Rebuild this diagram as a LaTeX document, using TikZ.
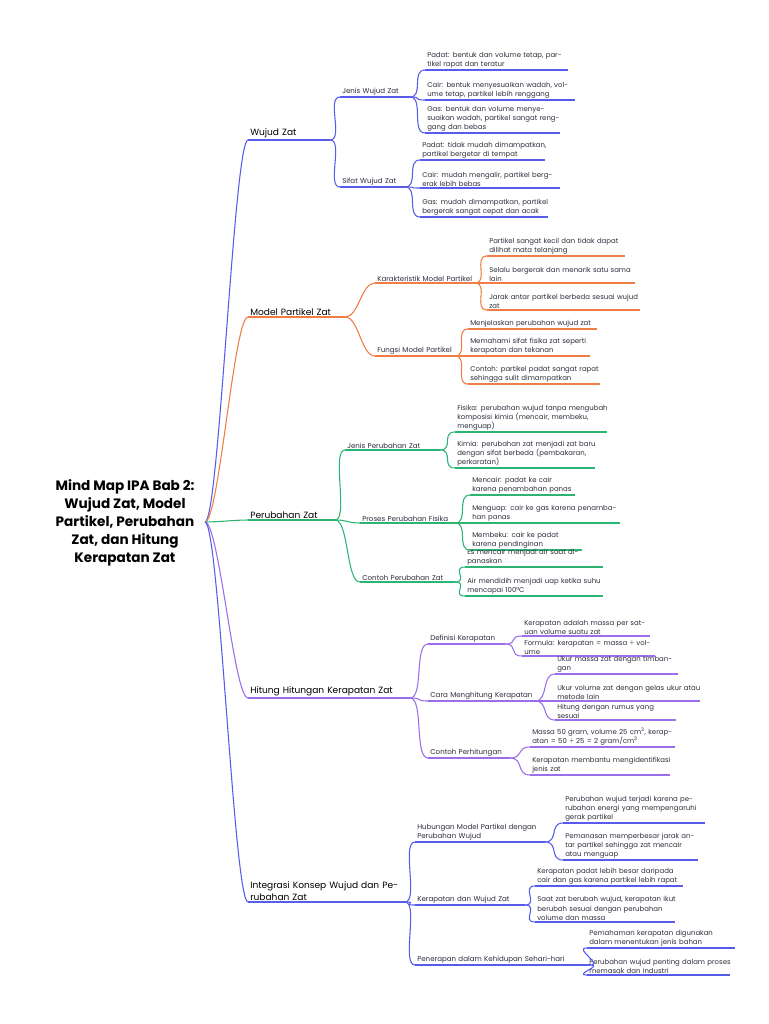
\documentclass[tikz,border=0pt]{standalone}
\usepackage{fontspec}
\setmainfont{Poppins}
\usetikzlibrary{positioning,calc}
\definecolor{mapblue}{RGB}{88,92,235}
\definecolor{maporange}{RGB}{240,125,70}
\definecolor{mapgreen}{RGB}{45,180,115}
\definecolor{mappurple}{RGB}{155,110,235}
\definecolor{maptext}{RGB}{45,45,60}

\tikzset{
    leaf/.style={font=\fontsize{5.2}{6.8}\selectfont, text=maptext},
    sub/.style={font=\fontsize{5.3}{6.8}\selectfont, text=maptext},
    main/.style={font=\fontsize{6.8}{8.6}\selectfont, text=black},
}

% underline with text: name, colour, x1, x2, y, style, text
\newcommand\mmline[7]{%
    \coordinate (#1-s) at (#3,#5);
    \coordinate (#1-e) at (#4,#5);
    \draw[#2, line width=0.8pt] (#1-s) -- (#1-e);
    \pgfmathsetmacro\mmwidth{(#4-#3)*0.75}
    \node[#6, anchor=south west, inner xsep=1.5pt, inner ysep=1.2pt,
          text width=\mmwidth pt, align=left] (#1) at (#1-s) {#7};
}
% curved connector between two underlines
\newcommand\mmlink[3]{%
    \draw[#3, line width=0.8pt] (#1-e) .. controls +(14,0) and +(-14,0) .. (#2-s);
}

\begin{document}
\begin{tikzpicture}[x=0.75pt, y=-0.75pt]
    \useasboundingbox[fill=white] (0,0) rectangle (768,1024);

    % Root
    \node[font=\fontsize{10.2}{13.5}\selectfont\bfseries, align=center] (root) at (125,523)
        {Mind Map IPA Bab 2:\\Wujud Zat, Model\\Partikel, Perubahan\\Zat, dan Hitung\\Kerapatan Zat};
    \coordinate (root-e) at (205,522);

    % Wujud Zat
    \mmline{wz}{mapblue}{248}{330}{140}{main}{Wujud Zat}
    \mmline{jwz}{mapblue}{340}{410}{97}{sub}{Jenis Wujud Zat}
    \mmline{sw}{mapblue}{340}{405}{187}{sub}{Sifat Wujud Zat}
    \mmline{jw1}{mapblue}{425}{568}{70}{leaf}{Padat: bentuk dan volume tetap, partikel rapat dan teratur}
    \mmline{jw2}{mapblue}{425}{575}{100}{leaf}{Cair: bentuk menyesuaikan wadah, volume tetap, partikel lebih renggang}
    \mmline{jw3}{mapblue}{425}{560}{133}{leaf}{Gas: bentuk dan volume menyesuaikan wadah, partikel sangat renggang dan bebas}
    \mmline{sw1}{mapblue}{420}{545}{160}{leaf}{Padat: tidak mudah dimampatkan, partikel bergetar di tempat}
    \mmline{sw2}{mapblue}{420}{560}{188}{leaf}{Cair: mudah mengalir, partikel bergerak lebih bebas}
    \mmline{sw3}{mapblue}{420}{548}{217}{leaf}{Gas: mudah dimampatkan, partikel bergerak sangat cepat dan acak}
    \mmlink{root}{wz}{mapblue}
    \mmlink{wz}{jwz}{mapblue}
    \mmlink{wz}{sw}{mapblue}
    \foreach \i in {1,2,3} {
        \mmlink{jwz}{jw\i}{mapblue}
        \mmlink{sw}{sw\i}{mapblue}
    }

    % Model Partikel Zat
    \mmline{mp}{maporange}{248}{345}{317}{main}{Model Partikel Zat}
    \mmline{kmp}{maporange}{375}{475}{283}{sub}{Karakteristik Model Partikel}
    \mmline{fmp}{maporange}{375}{455}{356}{sub}{Fungsi Model Partikel}
    \mmline{km1}{maporange}{487}{625}{256}{leaf}{Partikel sangat kecil dan tidak dapat dilihat mata telanjang}
    \mmline{km2}{maporange}{487}{635}{283}{leaf}{Selalu bergerak dan menarik satu sama lain}
    \mmline{km3}{maporange}{487}{640}{310}{leaf}{Jarak antar partikel berbeda sesuai wujud zat}
    \mmline{fm1}{maporange}{468}{597}{329}{leaf}{Menjelaskan perubahan wujud zat}
    \mmline{fm2}{maporange}{468}{590}{356}{leaf}{Memahami sifat fisika zat seperti kerapatan dan tekanan}
    \mmline{fm3}{maporange}{468}{600}{384}{leaf}{Contoh: partikel padat sangat rapat sehingga sulit dimampatkan}
    \mmlink{root}{mp}{maporange}
    \mmlink{mp}{kmp}{maporange}
    \mmlink{mp}{fmp}{maporange}
    \foreach \i in {1,2,3} {
        \mmlink{kmp}{km\i}{maporange}
        \mmlink{fmp}{fm\i}{maporange}
    }

    % Perubahan Zat
    \mmline{pz}{mapgreen}{248}{335}{520}{main}{Perubahan Zat}
    \mmline{jpz}{mapgreen}{345}{440}{450}{sub}{Jenis Perubahan Zat}
    \mmline{ppf}{mapgreen}{360}{455}{523}{sub}{Proses Perubahan Fisika}
    \mmline{cpz}{mapgreen}{360}{455}{582}{sub}{Contoh Perubahan Zat}
    \mmline{jp1}{mapgreen}{455}{607}{432}{leaf}{Fisika: perubahan wujud tanpa mengubah komposisi kimia (mencair, membeku, menguap)}
    \mmline{jp2}{mapgreen}{455}{595}{468}{leaf}{Kimia: perubahan zat menjadi zat baru dengan sifat berbeda (pembakaran, perkaratan)}
    \mmline{pp1}{mapgreen}{470}{575}{495}{leaf}{Mencair: padat ke cair karena penambahan panas}
    \mmline{pp2}{mapgreen}{470}{620}{523}{leaf}{Menguap: cair ke gas karena penambahan panas}
    \mmline{pp3}{mapgreen}{470}{582}{550}{leaf}{Membeku: cair ke padat karena pendinginan}
    \mmline{cp1}{mapgreen}{465}{603}{567}{leaf}{Es mencair menjadi air saat dipanaskan}
    \mmline{cp2}{mapgreen}{465}{603}{596}{leaf}{Air mendidih menjadi uap ketika suhu mencapai 100°C}
    \mmlink{root}{pz}{mapgreen}
    \foreach \s in {jpz,ppf,cpz} {
        \mmlink{pz}{\s}{mapgreen}
    }
    \foreach \i in {1,2} {
        \mmlink{jpz}{jp\i}{mapgreen}
        \mmlink{cpz}{cp\i}{mapgreen}
    }
    \foreach \i in {1,2,3} {
        \mmlink{ppf}{pp\i}{mapgreen}
    }

    % Hitung Hitungan Kerapatan Zat
    \mmline{hk}{mappurple}{248}{410}{698}{main}{Hitung Hitungan Kerapatan Zat}
    \mmline{dk}{mappurple}{428}{505}{644}{sub}{Definisi Kerapatan}
    \mmline{ck}{mappurple}{428}{535}{701}{sub}{Cara Menghitung Kerapatan}
    \mmline{cph}{mappurple}{428}{510}{758}{sub}{Contoh Perhitungan}
    \mmline{dk1}{mappurple}{522}{650}{636}{leaf}{Kerapatan adalah massa per satuan volume suatu zat}
    \mmline{dk2}{mappurple}{522}{655}{656}{leaf}{Formula: kerapatan = massa ÷ volume}
    \mmline{ck1}{mappurple}{555}{678}{674}{leaf}{Ukur massa zat dengan timbangan}
    \mmline{ck2}{mappurple}{555}{700}{701}{leaf}{Ukur volume zat dengan gelas ukur atau metode lain}
    \mmline{ck3}{mappurple}{555}{676}{720}{leaf}{Hitung dengan rumus yang sesuai}
    \mmline{ch1}{mappurple}{530}{675}{747}{leaf}{Massa 50 gram, volume 25 cm\textsuperscript{3}, kerapatan = 50 ÷ 25 = 2 gram/cm\textsuperscript{3}}
    \mmline{ch2}{mappurple}{530}{670}{775}{leaf}{Kerapatan membantu mengidentifikasi jenis zat}
    \mmlink{root}{hk}{mappurple}
    \foreach \s in {dk,ck,cph} {
        \mmlink{hk}{\s}{mappurple}
    }
    \foreach \i in {1,2} {
        \mmlink{dk}{dk\i}{mappurple}
        \mmlink{cph}{ch\i}{mappurple}
    }
    \foreach \i in {1,2,3} {
        \mmlink{ck}{ck\i}{mappurple}
    }

    % Integrasi Konsep
    \mmline{ik}{mapblue}{248}{405}{902}{main}{Integrasi Konsep Wujud dan Perubahan Zat}
    \mmline{hm}{mapblue}{415}{545}{842}{sub}{Hubungan Model Partikel dengan Perubahan Wujud}
    \mmline{kw}{mapblue}{415}{525}{905}{sub}{Kerapatan dan Wujud Zat}
    \mmline{pk}{mapblue}{415}{590}{965}{sub}{Penerapan dalam Kehidupan Sehari-hari}
    \mmline{hm1}{mapblue}{563}{705}{823}{leaf}{Perubahan wujud terjadi karena perubahan energi yang mempengaruhi gerak partikel}
    \mmline{hm2}{mapblue}{563}{698}{860}{leaf}{Pemanasan memperbesar jarak antar partikel sehingga zat mencair atau menguap}
    \mmline{kw1}{mapblue}{535}{683}{886}{leaf}{Kerapatan padat lebih besar daripada cair dan gas karena partikel lebih rapat}
    \mmline{kw2}{mapblue}{535}{675}{922}{leaf}{Saat zat berubah wujud, kerapatan ikut berubah sesuai dengan perubahan volume dan massa}
    \mmline{pk1}{mapblue}{587}{735}{948}{leaf}{Pemahaman kerapatan digunakan dalam menentukan jenis bahan}
    \mmline{pk2}{mapblue}{587}{730}{975}{leaf}{Perubahan wujud penting dalam proses memasak dan industri}
    \mmlink{root}{ik}{mapblue}
    \foreach \s in {hm,kw,pk} {
        \mmlink{ik}{\s}{mapblue}
    }
    \foreach \i in {1,2} {
        \mmlink{hm}{hm\i}{mapblue}
        \mmlink{kw}{kw\i}{mapblue}
        \mmlink{pk}{pk\i}{mapblue}
    }
\end{tikzpicture}
\end{document}
